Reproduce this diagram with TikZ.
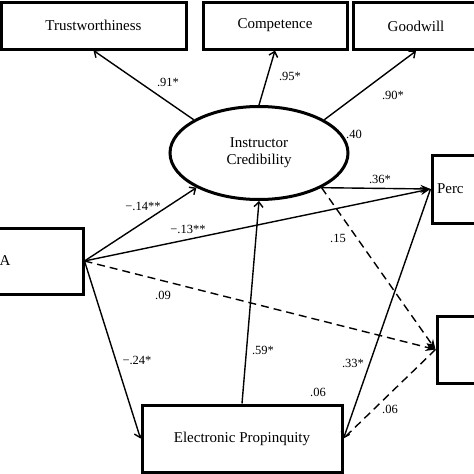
\documentclass[tikz,border=0pt]{standalone}
\usepackage{fontspec}
\setmainfont{Liberation Serif}
\usetikzlibrary{arrows,arrows.meta,shapes}
\tikzstyle{obox}=[rectangle,draw=black,line width=3pt,inner sep=0pt,font=\fontsize{15}{17}\selectfont]
\tikzstyle{olat}=[ellipse,draw=black,line width=3pt,inner sep=0pt,minimum width=178pt,minimum height=93pt,align=center,font=\fontsize{15}{17}\selectfont]
\tikzstyle{coef}=[inner sep=1pt,font=\fontsize{12.5}{14}\selectfont]
\tikzstyle{dpath}=[-{Straight Barb[length=5pt,width=9pt]},line width=1.4pt]
\tikzstyle{fpath}=[-{Stealth[length=10pt,width=8pt]},line width=1.4pt]
\tikzstyle{dpat}=[dash pattern=on 8pt off 5pt]
\begin{document}
\begin{tikzpicture}[x=1pt,y=-1pt]
\useasboundingbox (0,0) rectangle (474,474);
\node[obox,minimum width=185pt,minimum height=47pt] (trust) at (93.5,25.5) {Trustworthiness};
\node[obox,minimum width=144pt,minimum height=47pt] (comp) at (275,25.5) {Competence};
\node[obox,minimum width=126pt,minimum height=47pt] (good) at (416,26) {Goodwill};
\node[olat] (cred) at (259,153) {Instructor\\Credibility};
\node[obox,minimum width=166pt,minimum height=66pt] (ca) at (0,261) {\hspace*{10pt}A};
\node[obox,minimum height=68pt,inner xsep=5pt,text width=80pt,align=left] (perc) at (477,189) {Perc};
\node[obox,minimum width=90pt,minimum height=67pt] (out) at (482,349.5) {};
\node[obox,minimum width=200pt,minimum height=67pt] (ep) at (242,438.5) {Electronic Propinquity};
\draw[dpath](cred.153)--(trust.south);\draw[dpath](cred.north)--(comp.south);\draw[dpath](cred.27)--(good.south);
\draw[dpath](ca.east)--(cred.209);\draw[fpath](ca.east)--(perc.west);\draw[fpath](cred.-29)--(perc.west);
\draw[fpath,dpat](cred.-29)--(out.west);\draw[fpath,dpat](ca.east)--(out.west);
\draw[dpath](ca.east)--(ep.west);\draw[dpath](ep.north)--(cred.south);\draw[dpath](perc.west)--(ep.east);\draw[line width=1.4pt,dpat](out.west)--(ep.east);
\node[coef] (c91) at (168,82) {.91*};
\node[coef] (c95) at (290,76) {.95*};
\node[coef] (c90) at (393,95) {.90*};
\node[coef] (c40) at (354,134) {.40};
\node[coef] (c14) at (143,206) {−.14**};
\node[coef] (c13) at (188,229) {−.13**};
\node[coef] (c36) at (380,179) {.36*};
\node[coef] (c15) at (338,238) {.15};
\node[coef] (c09) at (163,295) {.09};
\node[coef] (c24) at (137,360) {−.24*};
\node[coef] (c59) at (263,350) {.59*};
\node[coef] (c33) at (353,363) {.33*};
\node[coef] (c06a) at (318,392) {.06};
\node[coef] (c06b) at (390,409) {.06};
\end{tikzpicture}
\end{document}
